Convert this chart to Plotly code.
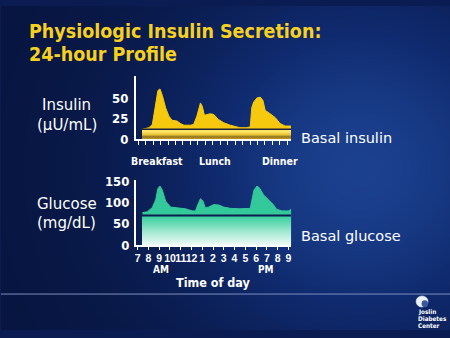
import numpy as np
import plotly.graph_objects as go

# Insulin secretion through the day (hour on a 24-h clock, µU/mL)
insulin_hours = [7.4, 8.05, 8.36, 8.67, 8.88, 9.07, 9.29, 9.6, 9.9, 10.2, 10.67, 10.98,
                 11.3, 11.9, 12.2, 12.5, 12.83, 13.0, 13.2, 13.45, 13.76, 14.07, 14.5,
                 15.0, 15.6, 16.2, 16.5, 17.15, 17.46, 17.6, 17.77, 18.08, 18.4, 18.64,
                 18.85, 19.3, 19.8, 20.24, 20.7, 21.25]
insulin_values = [12, 14, 18, 45, 59, 61, 53, 38, 28, 23, 22, 19,
                  17, 17, 18, 28, 44, 40, 29, 30, 31, 30, 24,
                  20, 17, 15, 14, 14, 15, 38, 45, 50, 51, 47,
                  35, 31, 26, 19, 16, 16]
basal_insulin = 12

# Plasma glucose through the day (mg/dL)
glucose_hours = [7.45, 7.9, 8.36, 8.67, 8.88, 9.07, 9.29, 9.6, 10.06, 10.67, 11.44, 12.06,
                 12.37, 12.58, 12.83, 13.05, 13.3, 13.6, 14.07, 14.53, 15.0, 15.6, 16.5,
                 17.46, 17.6, 17.8, 18.08, 18.3, 18.7, 19.16, 19.6, 19.9, 20.4, 21.0, 21.28]
glucose_values = [77, 79, 89, 107, 134, 140, 130, 104, 90, 88, 86, 81,
                  81, 95, 110, 105, 88, 90, 96, 95, 90, 87, 86,
                  87, 104, 130, 140, 136, 119, 107, 96, 85, 81, 81, 85]
basal_glucose = 70

day_window = [7.4, 21.25]          # hours spanned by the basal bands

meal_names = ["Breakfast", "Lunch", "Dinner"]
meal_hours = [8.0, 12.2, 17.0]

hour_ticks = list(range(7, 22))
hour_labels = ["7", "8", "9", "10", "11", "12", "1", "2", "3", "4", "5", "6", "7", "8", "9"]
insulin_ticks = [0, 25, 50]
glucose_ticks = [0, 50, 100, 150]

W, H = 450, 338
X_RANGE = [6.815, 21.28]
WHITE = "#ffffff"
YELLOW = "#f6c90e"
TEAL = "#33c99b"
LABEL_FONT = "DejaVu Sans"
BOLD_FONT = "DejaVu Sans Condensed, DejaVu Sans, Liberation Sans"
NARROW_FONT = "Liberation Sans, Arial"


def px(x, y):
    """Pixel position on the page -> paper coordinates."""
    return x / W, 1 - y / H


fig = go.Figure()

# slide background: dark navy with a soft glow on the right
gx = np.linspace(0, 1, 46)
gy = np.linspace(0, 1, 35)
GX, GY = np.meshgrid(gx, gy)
glow = np.exp(-(((GX - 0.8) / 0.45) ** 2 + ((GY - 0.5) / 0.6) ** 2))
fig.add_trace(go.Heatmap(x=gx, y=gy, z=glow, zsmooth="best", showscale=False,
                         colorscale=[[0, "#071540"], [0.6, "#0f2a6e"], [1, "#1b408e"]],
                         hoverinfo="skip", xaxis="x", yaxis="y"))

# ---- insulin panel ----
fig.add_trace(go.Scatter(x=insulin_hours, y=insulin_values, mode="lines",
                         fill="tozeroy", fillcolor=YELLOW,
                         line=dict(color=YELLOW, width=1),
                         xaxis="x2", yaxis="y2", hoverinfo="skip"))
w0, w1 = day_window
fig.add_trace(go.Scatter(x=[w0, w1, w1, w0, w0], y=[0, 0, basal_insulin, basal_insulin, 0],
                         mode="lines", fill="toself", line=dict(width=0),
                         fillgradient=dict(type="vertical", start=0, stop=basal_insulin,
                                           colorscale=[[0, "#e0b01a"], [0.3, "#c49a18"],
                                                       [0.5, "#8f7220"], [0.7, "#e8c434"],
                                                       [1, "#ffe566"]]),
                         xaxis="x2", yaxis="y2", hoverinfo="skip"))
fig.add_trace(go.Scatter(x=day_window, y=[basal_insulin, basal_insulin], mode="lines",
                         line=dict(color="#20203a", width=1.5),
                         xaxis="x2", yaxis="y2", hoverinfo="skip"))
# meal markers under the insulin axis
fig.add_trace(go.Scatter(x=meal_hours, y=[-14] * len(meal_hours), mode="markers",
                         marker=dict(symbol="line-ns", size=7,
                                     line=dict(color="#e3262a", width=2)),
                         cliponaxis=False, xaxis="x2", yaxis="y2", hoverinfo="skip"))

# ---- glucose panel ----
fig.add_trace(go.Scatter(x=glucose_hours, y=glucose_values, mode="lines",
                         fill="tozeroy", fillcolor=TEAL,
                         line=dict(color=TEAL, width=1),
                         xaxis="x3", yaxis="y3", hoverinfo="skip"))
fig.add_trace(go.Scatter(x=[w0, w1, w1, w0, w0], y=[0, 0, basal_glucose, basal_glucose, 0],
                         mode="lines", fill="toself", line=dict(width=0),
                         fillgradient=dict(type="vertical", start=0, stop=basal_glucose,
                                           colorscale=[[0, "#ffffff"], [0.5, "#a6ead3"],
                                                       [1, "#3ccf9f"]]),
                         xaxis="x3", yaxis="y3", hoverinfo="skip"))
fig.add_trace(go.Scatter(x=day_window, y=[basal_glucose, basal_glucose], mode="lines",
                         line=dict(color="#0d1c4d", width=2),
                         xaxis="x3", yaxis="y3", hoverinfo="skip"))

axis_common = dict(showgrid=False, zeroline=False, showline=True, linecolor=WHITE,
                   linewidth=1.5, fixedrange=True)
x_dom = [135 / W, 291 / W]

fig.update_layout(
    width=W, height=H, margin=dict(l=0, r=0, t=0, b=0),
    paper_bgcolor="#0b1c52", plot_bgcolor="rgba(0,0,0,0)",
    showlegend=False, hovermode=False,
    xaxis=dict(domain=[0, 1], range=[0, 1], visible=False, fixedrange=True),
    yaxis=dict(domain=[0, 1], range=[0, 1], visible=False, fixedrange=True),
    xaxis2=dict(domain=x_dom, range=X_RANGE, anchor="y2", ticks="outside",
                tickcolor=WHITE, ticklen=4, tickwidth=1, tick0=7.74, dtick=0.693,
                showticklabels=False, **axis_common),
    yaxis2=dict(domain=[1 - 139 / H, 1 - 73 / H], range=[0, 76.7], anchor="x2",
                tickvals=insulin_ticks, ticks="", ticklabelstandoff=3,
                tickfont=dict(family=BOLD_FONT, size=13, color=WHITE, weight="bold"),
                **axis_common),
    xaxis3=dict(domain=x_dom, range=X_RANGE, anchor="y3", ticks="outside",
                tickcolor=WHITE, ticklen=3, tickwidth=1,
                tickvals=hour_ticks, ticktext=hour_labels, tickangle=0,
                tickfont=dict(family=NARROW_FONT, size=10.5, color=WHITE, weight="bold"),
                **axis_common),
    yaxis3=dict(domain=[1 - 249.3 / H, 1 - 181.7 / H], range=[0, 154], anchor="x3",
                tickvals=glucose_ticks, ticks="", ticklabelstandoff=2,
                tickfont=dict(family=BOLD_FONT, size=13, color=WHITE, weight="bold"),
                **axis_common),
)


def note(text, x, y, size, family=LABEL_FONT, color=WHITE, bold=False,
         xanchor="center", yanchor="middle"):
    xp, yp = px(x, y)
    fig.add_annotation(text=text, x=xp, y=yp, xref="paper", yref="paper",
                       xanchor=xanchor, yanchor=yanchor, showarrow=False,
                       font=dict(family=family, size=size, color=color,
                                 weight="bold" if bold else "normal"))


# title
note("Physiologic Insulin Secretion:", 26, 27, 19.5, BOLD_FONT, "#f7d11e", True, "left")
note("24-hour Profile", 26, 51, 19.5, BOLD_FONT, "#f7d11e", True, "left")

# axis labels
note("Insulin", 66, 103.5, 15)
note("(µU/mL)", 66, 124, 15)
note("Glucose", 66, 207, 15)
note("(mg/dL)", 66, 226, 15)
note("Basal insulin", 299, 137.5, 14.5, xanchor="left")
note("Basal glucose", 299, 239.5, 14.5, xanchor="left")
note("AM", 160, 275, 10, BOLD_FONT, bold=True)
note("PM", 266, 275, 10, BOLD_FONT, bold=True)
note("Time of day", 213, 288, 12.5, BOLD_FONT, bold=True)

# meal names
for name, cx in zip(meal_names, [156, 214, 280]):
    note(name, cx, 161.5, 10.5, BOLD_FONT, bold=True)

# footer rule and logo
fig.add_shape(type="line", xref="paper", yref="paper", x0=0, x1=1,
              y0=1 - 300.5 / H, y1=1 - 300.5 / H, line=dict(color="#7f8fbf", width=1))
cx0, cy0 = px(416, 302.5)
cx1, cy1 = px(428, 314)
fig.add_shape(type="circle", xref="paper", yref="paper", x0=cx0, y0=cy1, x1=cx1, y1=cy0,
              fillcolor="#eef2fa", line=dict(color="#eef2fa", width=0.5))
ix0, iy0 = px(421.5, 307)
ix1, iy1 = px(428, 314)
fig.add_shape(type="circle", xref="paper", yref="paper", x0=ix0, y0=iy1, x1=ix1, y1=iy0,
              fillcolor="#3a5a9a", line=dict(width=0))
for i, word in enumerate(["Joslin", "Diabetes", "Center"]):
    note(word, 415.5, 319.5 + 7 * i, 6.3, BOLD_FONT, bold=True, xanchor="left")

fig.write_html("out.html")
